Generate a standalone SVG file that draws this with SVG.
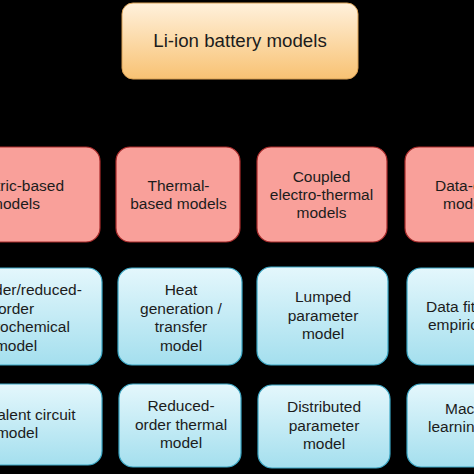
<svg xmlns="http://www.w3.org/2000/svg" width="474" height="474" viewBox="0 0 474 474">
<defs>
<linearGradient id="gOrange" x1="0" y1="0" x2="0" y2="1">
<stop offset="0" stop-color="#fff1dc"/>
<stop offset="1" stop-color="#f8c273"/>
</linearGradient>
<linearGradient id="gBlue" x1="0" y1="0" x2="0" y2="1">
<stop offset="0" stop-color="#e4f7fc"/>
<stop offset="1" stop-color="#a4dfee"/>
</linearGradient>
<style>
.t{font-family:"Liberation Sans",Arial,sans-serif;font-size:15.5px;fill:#1c1c1c;text-anchor:middle}
.ts{text-anchor:start}
.top{fill:url(#gOrange);stroke:#d9a054;stroke-width:1}
.red{fill:#f9a09a;stroke:#a82a2a;stroke-width:1.2}
.blue{fill:url(#gBlue);stroke:#3aa6c4;stroke-width:1.2}
</style>
</defs>
<rect width="474" height="474" fill="#000"/>
<g id="connectors"></g>
<g id="root">
<rect class="top" x="122" y="3" width="236" height="76" rx="11"/>
<text class="t" x="240" y="47" style="font-size:18.7px">Li-ion battery models</text>
</g>
<g id="electric-based">
<rect class="red" x="-70" y="147" width="170" height="95" rx="14"/>
<text class="t" x="15" y="191">Electric-based</text>
<text class="t" x="15" y="209">models</text>
</g>
<g id="thermal-based">
<rect class="red" x="116" y="147" width="124" height="95" rx="14"/>
<text class="t" x="178.5" y="191">Thermal-</text>
<text class="t" x="178.5" y="209">based models</text>
</g>
<g id="coupled">
<rect class="red" x="257" y="147" width="130" height="95" rx="14"/>
<text class="t" x="321.5" y="182">Coupled</text>
<text class="t" x="321.5" y="200">electro-thermal</text>
<text class="t" x="321.5" y="218">models</text>
</g>
<g id="data-driven">
<rect class="red" x="405" y="147" width="170" height="95" rx="14"/>
<text class="t ts" x="435" y="191">Data-driven</text>
<text class="t ts" x="443" y="209">models</text>
</g>
<g id="electrochemical">
<rect class="blue" x="-70" y="268" width="172" height="97" rx="14"/>
<text class="t" x="16" y="295">Full-order/reduced-</text>
<text class="t" x="16" y="313.5">order</text>
<text class="t" x="16" y="332">electrochemical</text>
<text class="t" x="16" y="350.5">model</text>
</g>
<g id="heat-generation">
<rect class="blue" x="118" y="268" width="124" height="97" rx="14"/>
<text class="t" x="181" y="295">Heat</text>
<text class="t" x="181" y="313.5">generation /</text>
<text class="t" x="181" y="332">transfer</text>
<text class="t" x="181" y="350.5">model</text>
</g>
<g id="lumped">
<rect class="blue" x="257" y="267" width="131" height="98" rx="14"/>
<text class="t" x="323" y="302">Lumped</text>
<text class="t" x="323" y="320.5">parameter</text>
<text class="t" x="323" y="339">model</text>
</g>
<g id="data-fitting">
<rect class="blue" x="407" y="268" width="170" height="97" rx="14"/>
<text class="t ts" x="426" y="312">Data fitting /</text>
<text class="t ts" x="428" y="330">empirical model</text>
</g>
<g id="equivalent-circuit">
<rect class="blue" x="-70" y="384" width="172" height="81" rx="14"/>
<text class="t" x="17" y="420">Equivalent circuit</text>
<text class="t" x="17" y="438">model</text>
</g>
<g id="reduced-order-thermal">
<rect class="blue" x="119" y="384" width="122" height="83" rx="14"/>
<text class="t" x="181" y="411">Reduced-</text>
<text class="t" x="181" y="429.5">order thermal</text>
<text class="t" x="181" y="448">model</text>
</g>
<g id="distributed">
<rect class="blue" x="258" y="385" width="132" height="83" rx="14"/>
<text class="t" x="324" y="412">Distributed</text>
<text class="t" x="324" y="430.5">parameter</text>
<text class="t" x="324" y="449">model</text>
</g>
<g id="machine-learning">
<rect class="blue" x="407" y="384" width="170" height="83" rx="14"/>
<text class="t ts" x="445" y="414">Machine</text>
<text class="t ts" x="428" y="432">learning model</text>
</g>
</svg>
